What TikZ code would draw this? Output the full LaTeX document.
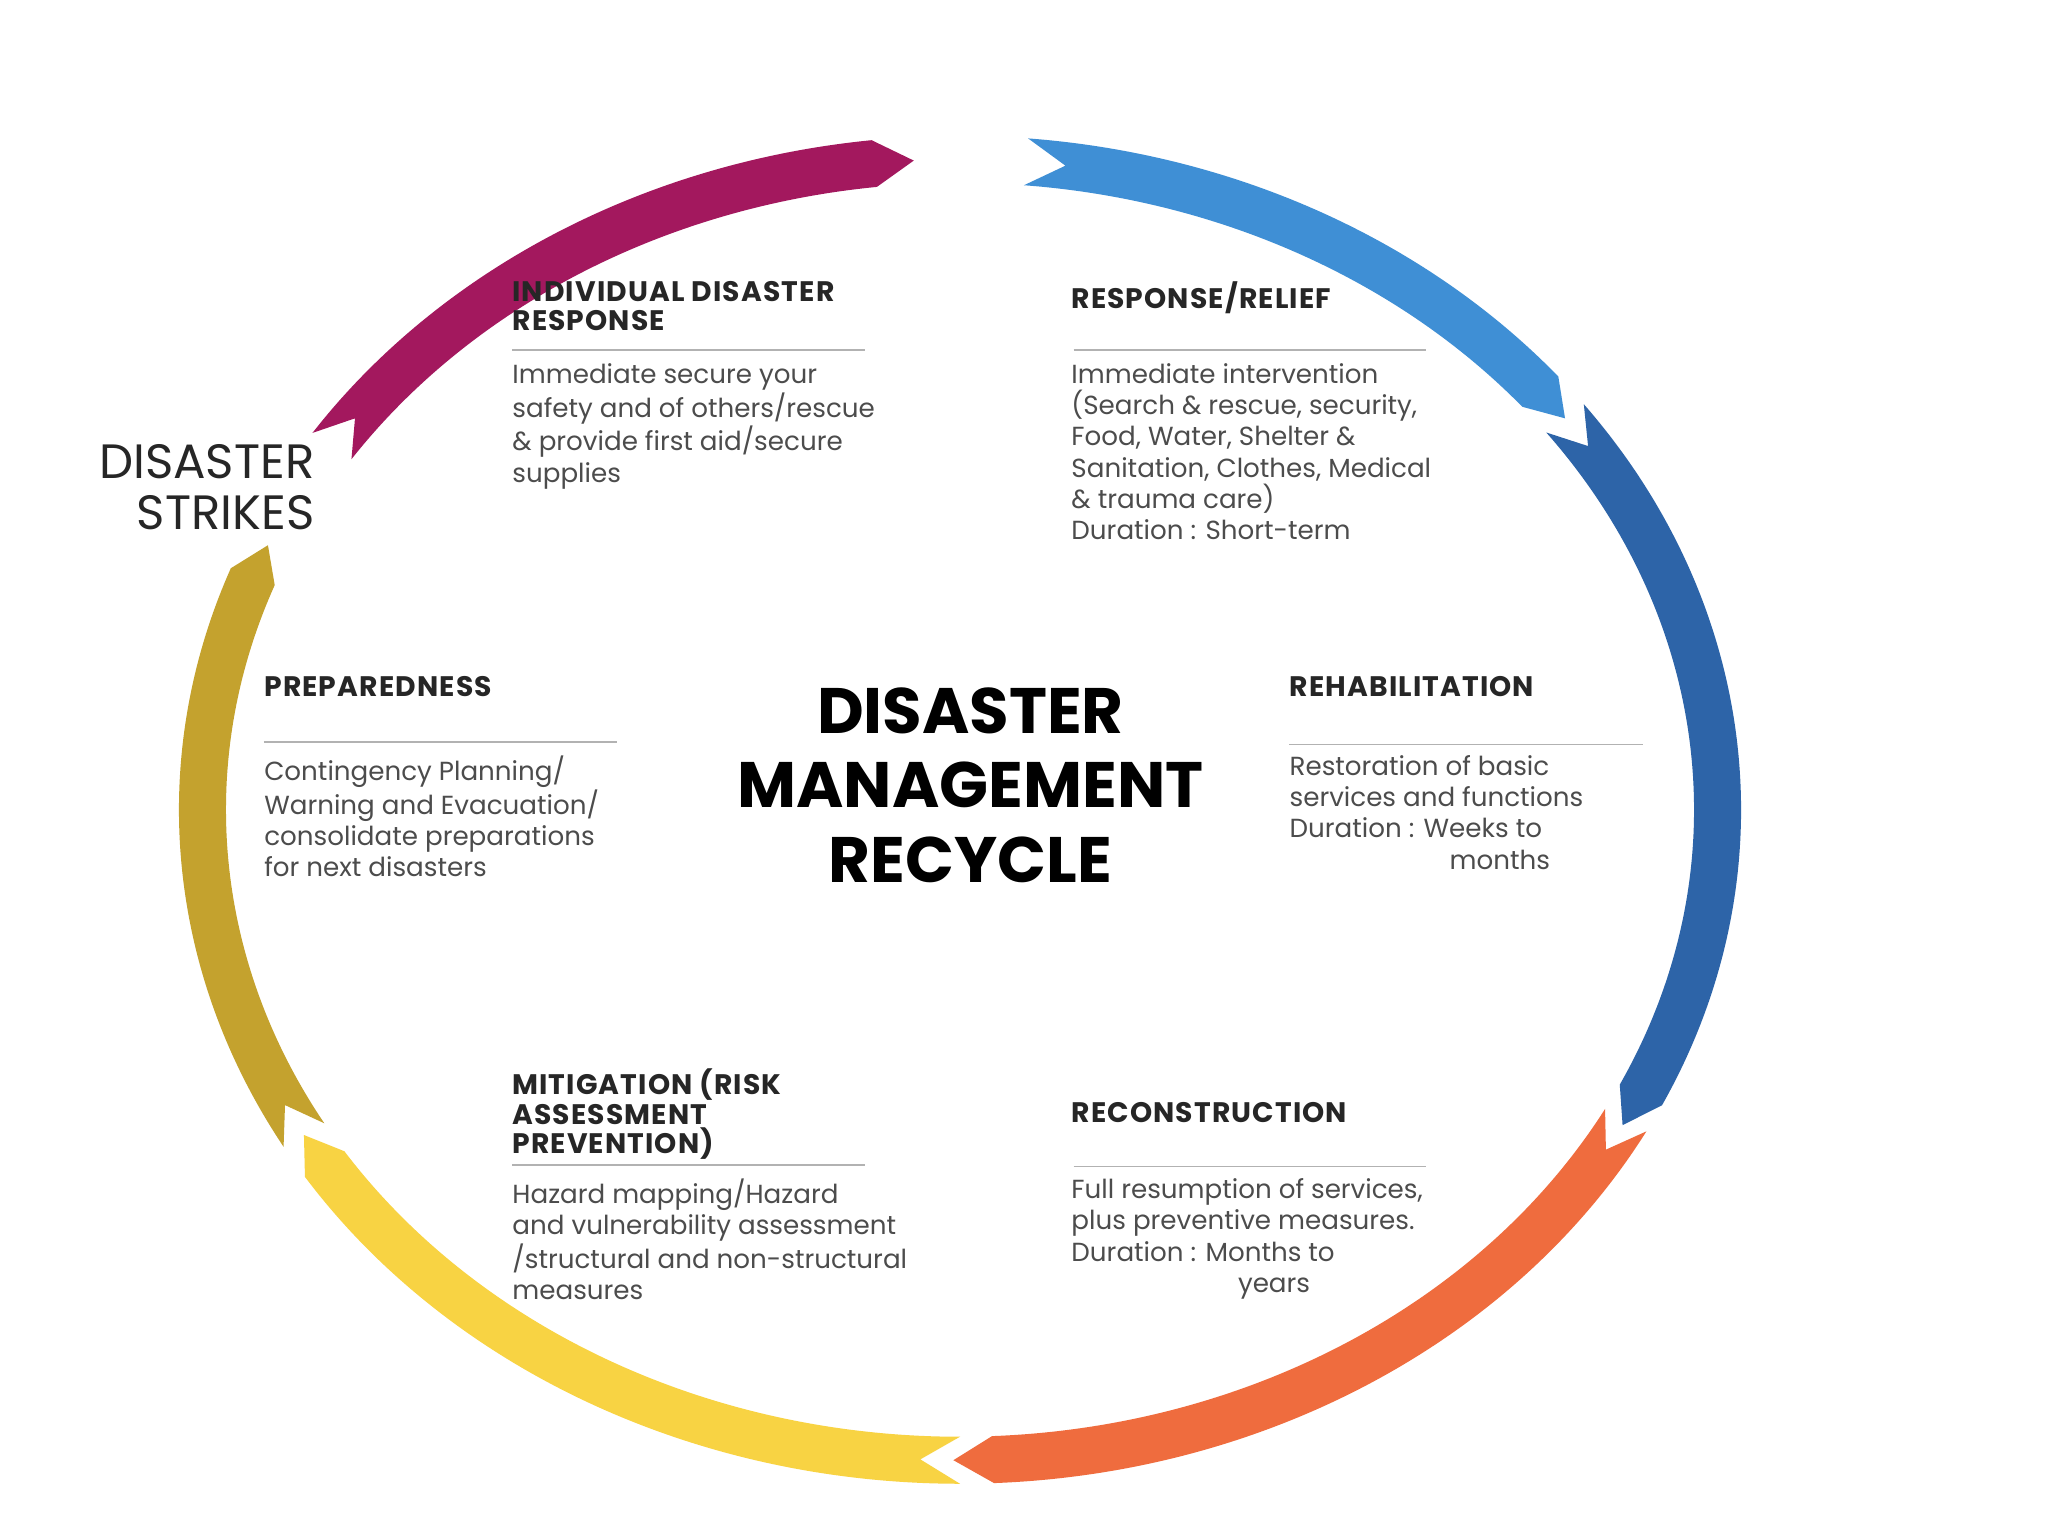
\documentclass[tikz,border=0pt]{standalone}
\usepackage{fontspec}
\setmainfont{Poppins}
\newfontfamily\headf[LetterSpace=4]{Poppins}
\usetikzlibrary{calc}
\definecolor{cmag}{HTML}{A3185E}
\definecolor{clb}{HTML}{3F8FD5}
\definecolor{cdb}{HTML}{2D64A8}
\definecolor{cor}{HTML}{EF6C3E}
\definecolor{cye}{HTML}{F8D343}
\definecolor{col}{HTML}{C4A22E}
\newcommand{\seg}[3]{% color, t1, t2 (decreasing)
 \fill[#1] ($(C)+(#2:11.96 and 10.32)$) arc[start angle=#2, end angle=#3, x radius=11.96, y radius=10.32]
  -- ($(C)+({#3-3}:11.6 and 9.96)$)
  -- ($(C)+(#3:11.24 and 9.6)$) arc[start angle=#3, end angle=#2, x radius=11.24, y radius=9.6]
  -- ($(C)+({#2-3}:11.6 and 9.96)$) -- cycle;}
\tikzset{
 head/.style={anchor=north west, inner sep=0pt, align=left, font=\headf\bfseries\fontsize{12.3}{12.8}\selectfont, text=black!85},
 body/.style={anchor=north west, inner sep=0pt, align=left, font=\fontsize{11.4}{13.6}\selectfont, text=black!70},
 rulel/.style={gray!60, line width=0.6pt}
}
\begin{document}
\begin{tikzpicture}
\useasboundingbox[fill=white] (0,0) rectangle (31.36,23.52);
\coordinate (C) at (14.7,11.12);
\seg{cmag}{146}{96.5}
\seg{clb}{85}{40}
\seg{cdb}{37}{-26}
\seg{cor}{-28.5}{-87.5}
\seg{cye}{-90}{-147}
\seg{col}{210}{159}
% disaster strikes
\node[anchor=north east, inner sep=0pt, align=right, font=\fontsize{21}{22}\selectfont\mdseries, text=black!85] (ds) at (4.82,16.72) {DISASTER\\STRIKES};
% center
\node[inner sep=0pt, align=center, font=\fontsize{28}{32.5}\selectfont\bfseries, text=black] (title) at (14.86,11.5) {DISASTER\\MANAGEMENT\\RECYCLE};
% individual
\node[head] (h1) at (7.84,19.22) {INDIVIDUAL DISASTER\\RESPONSE};
\draw[rulel] (7.84,18.16) -- (13.24,18.16);
\node[body] (b1) at (7.84,17.96) {Immediate secure your\\safety and of others/rescue\\\& provide first aid/secure\\supplies};
% response
\node[head] (h2) at (16.4,19.22) {RESPONSE/RELIEF};
\draw[rulel] (16.44,18.16) -- (21.84,18.16);
\node[body] (b2) at (16.4,17.96) {Immediate intervention\\(Search \& rescue, security,\\Food, Water, Shelter \&\\Sanitation, Clothes, Medical\\\& trauma care)\\Duration : Short-term};
% preparedness
\node[head] (h3) at (4.04,13.17) {PREPAREDNESS};
\draw[rulel] (4.04,12.16) -- (9.44,12.16);
\node[body] (b3) at (4.04,11.96) {Contingency Planning/\\Warning and Evacuation/\\consolidate preparations\\for next disasters};
% rehabilitation
\node[head] (h4) at (19.74,13.17) {REHABILITATION};
\draw[rulel] (19.74,12.12) -- (25.16,12.12);
\node[body] (b4) at (19.74,11.96) {Restoration of basic\\services and functions\\Duration : Weeks to\\\hspace*{2.45cm}months};
% mitigation
\node[head] (h5) at (7.84,7.16) {MITIGATION (RISK\\ASSESSMENT\\PREVENTION)};
\draw[rulel] (7.84,5.68) -- (13.24,5.68);
\node[body] (b5) at (7.84,5.48) {Hazard mapping/Hazard\\and vulnerability assessment\\/structural and non-structural\\measures};
% reconstruction
\node[head] (h6) at (16.4,6.64) {RECONSTRUCTION};
\draw[rulel] (16.44,5.66) -- (21.84,5.66);
\node[body] (b6) at (16.4,5.48) {Full resumption of services,\\plus preventive measures.\\Duration : Months to\\\hspace*{2.55cm}years};
\end{tikzpicture}
\end{document}
